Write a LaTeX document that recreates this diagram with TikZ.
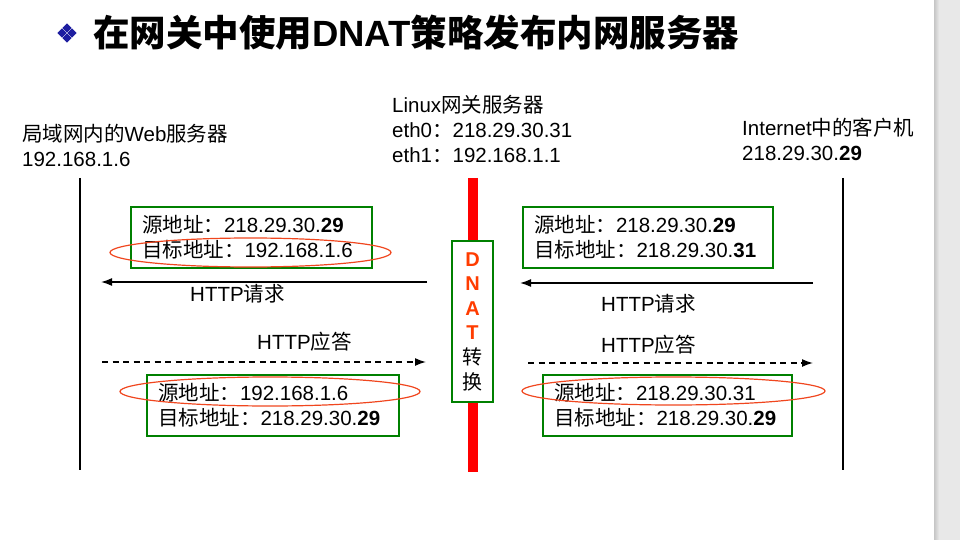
\documentclass[tikz,border=0pt]{standalone}
\usepackage{fontspec}
\setmainfont{Liberation Sans}
\newfontfamily\cjk{Noto Sans CJK SC}
\newcommand{\zh}[1]{{\cjk #1}}
\usetikzlibrary{arrows.meta}
\definecolor{dkgreen}{RGB}{0,128,0}
\definecolor{ovalred}{RGB}{240,70,30}
\definecolor{natred}{RGB}{255,60,0}
\definecolor{bullet}{RGB}{30,30,160}

\begin{document}
\begin{tikzpicture}[x=1pt,y=-1pt,
    lbl/.style={anchor=west,align=left,inner sep=0pt,font=\fontsize{20.5}{25}\selectfont},
    addr/.style={draw=dkgreen,line width=2pt,anchor=west,align=left,text width=#1,
        inner xsep=11pt,inner ysep=0pt,minimum height=61pt,font=\fontsize{20.5}{25}\selectfont},
    oval/.style={draw=ovalred,line width=1.2pt},
    pkt/.style={line width=1.5pt,-{Latex[length=11pt,width=8pt]}},
    host/.style={line width=2pt}]
    \useasboundingbox (0,0) rectangle (960,540);
    \fill[gray!18] (934,0) rectangle (960,540);
    \shade[left color=gray!45,right color=gray!18] (934,0) rectangle (939,540);
    % title
    \foreach \dx/\dy in {-5/0,5/0,0/-5,0/5}
        \fill[bullet] (67+\dx+4.6,33+\dy) -- (67+\dx,33+\dy+4.6) -- (67+\dx-4.6,33+\dy) -- (67+\dx,33+\dy-4.6) -- cycle;
    \node[anchor=west,inner sep=0pt,font=\fontsize{36.5}{40}\selectfont\bfseries] (title) at (93,33)
        {\zh{在网关中使用}DNAT\zh{策略发布内网服务器}};
    % hosts
    \node[lbl] (web) at (22,145) {\zh{局域网内的}Web\zh{服务器}\\192.168.1.6};
    \node[lbl] (gw) at (392,129) {Linux\zh{网关服务器}\\eth0\zh{：}218.29.30.31\\eth1\zh{：}192.168.1.1};
    \node[lbl] (client) at (742,139) {Internet\zh{中的客户机}\\218.29.30.\textbf{29}};
    \coordinate (webtop) at (80,178);
    \coordinate (webbot) at (80,470);
    \coordinate (clitop) at (843,178);
    \coordinate (clibot) at (843,470);
    \coordinate (bartop) at (473,178);
    \coordinate (barbot) at (473,472);
    \draw[host] (webtop) -- (webbot);
    \draw[host] (clitop) -- (clibot);
    \draw[red,line width=10pt] (bartop) -- (barbot);
    \node[draw=dkgreen,line width=2pt,fill=white,minimum width=41pt,minimum height=161pt,inner sep=0pt,
        align=center,font=\fontsize{20}{24.6}\selectfont] (nat) at (472.5,321.5)
        {\textcolor{natred}{\textbf{D}}\\\textcolor{natred}{\textbf{N}}\\\textcolor{natred}{\textbf{A}}\\
         \textcolor{natred}{\textbf{T}}\\\zh{转}\\\zh{换}};
    % packets
    \node[addr=219pt] (inreq) at (130,237.5) {\zh{源地址：}218.29.30.\textbf{29}\\\zh{目标地址：}192.168.1.6};
    \node[addr=228pt] (outreq) at (522,237.5) {\zh{源地址：}218.29.30.\textbf{29}\\\zh{目标地址：}218.29.30.\textbf{31}};
    \node[addr=230pt] (inrep) at (146,405.5) {\zh{源地址：}192.168.1.6\\\zh{目标地址：}218.29.30.\textbf{29}};
    \node[addr=227pt] (outrep) at (542,405.5) {\zh{源地址：}218.29.30.31\\\zh{目标地址：}218.29.30.\textbf{29}};
    \draw[oval] (250.5,252.5) ellipse [x radius=140.5pt,y radius=14.5pt];
    \draw[oval] (270,391.5) ellipse [x radius=150pt,y radius=14.5pt];
    \draw[oval] (673.5,391) ellipse [x radius=151.5pt,y radius=14pt];
    % arrows
    \coordinate (reqL) at (427,282);
    \coordinate (reqLend) at (101,282);
    \coordinate (reqR) at (813,283);
    \coordinate (reqRend) at (520,283);
    \coordinate (repL) at (102,362);
    \coordinate (repLend) at (426,362);
    \coordinate (repR) at (528,363);
    \coordinate (repRend) at (813,363);
    \draw[pkt] (reqL) -- (reqLend);
    \draw[pkt] (reqR) -- (reqRend);
    \draw[pkt,dash pattern=on 6pt off 4.5pt] (repL) -- (repLend);
    \draw[pkt,dash pattern=on 6pt off 4.5pt] (repR) -- (repRend);
    \node[lbl] (reqLtxt) at (190,294) {HTTP\zh{请求}};
    \node[lbl] (reqRtxt) at (601,304) {HTTP\zh{请求}};
    \node[lbl] (repLtxt) at (257,342) {HTTP\zh{应答}};
    \node[lbl] (repRtxt) at (601,345) {HTTP\zh{应答}};
\end{tikzpicture}
\end{document}
